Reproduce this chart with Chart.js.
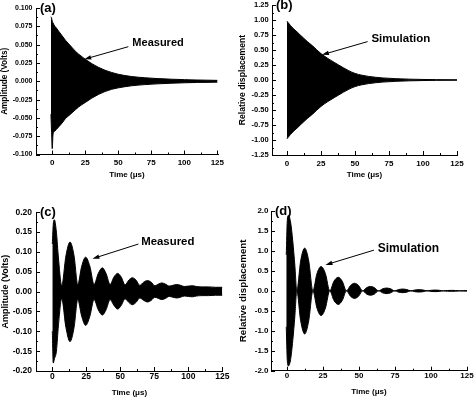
<!DOCTYPE html>
<html>
<head>
<meta charset="utf-8">
<script src="https://cdn.jsdelivr.net/npm/chart.js@4.4.1/dist/chart.umd.min.js"></script>
<style>
  body { margin: 0; background: #fff; }
  #wrap { position: relative; width: 474px; height: 399px; overflow: hidden; }
  canvas { position: absolute; }
</style>
</head>
<body>
<div id="wrap">
  <canvas id="pa" width="237" height="200" style="left:0;top:0"></canvas>
  <canvas id="pb" width="237" height="200" style="left:237px;top:0"></canvas>
  <canvas id="pc" width="237" height="199" style="left:0;top:200px"></canvas>
  <canvas id="pd" width="237" height="199" style="left:237px;top:200px"></canvas>
</div>
<script>
// envelopes of the ring-down signals (time in µs)
const aTime  = [-1, -0.5, 0, 0.5, 1, 2, 3, 5, 7.5, 10, 12.5, 15, 17.5, 20, 25, 30, 35, 40, 45, 50, 60, 70, 80, 90, 100, 110, 125];
const aUpper = [0.088, 0.086, 0.082, 0.080, 0.078, 0.075, 0.073, 0.068, 0.062, 0.056, 0.051, 0.046, 0.041, 0.037, 0.030, 0.024, 0.019, 0.015, 0.012, 0.0095, 0.0065, 0.0048, 0.0036, 0.0028, 0.0022, 0.0017, 0.0012];
const aLower = [-0.045, -0.070, -0.092, -0.075, -0.070, -0.068, -0.066, -0.062, -0.057, -0.051, -0.047, -0.043, -0.039, -0.035, -0.029, -0.023, -0.018, -0.014, -0.011, -0.009, -0.0062, -0.0046, -0.0035, -0.0027, -0.0021, -0.0016, -0.0012];

const bTime  = [0, 2.5, 5, 7.5, 10, 15, 20, 22, 25, 30, 35, 38, 45, 50, 55, 60, 70, 80, 90, 100, 110, 125];
const bUpper = [0.98, 0.91, 0.85, 0.80, 0.745, 0.64, 0.545, 0.50, 0.44, 0.36, 0.29, 0.25, 0.16, 0.11, 0.08, 0.06, 0.035, 0.022, 0.014, 0.009, 0.006, 0.003];
const bLower = [-0.98, -0.91, -0.85, -0.80, -0.745, -0.64, -0.545, -0.50, -0.44, -0.36, -0.29, -0.25, -0.16, -0.11, -0.08, -0.06, -0.035, -0.022, -0.014, -0.009, -0.006, -0.003];

const cTime  = [0, 0.7, 1.5, 3, 4.5, 6.9, 10, 13, 16, 18.7, 21.6, 24.5, 27.6, 30.7, 33.7, 36.8, 39.6, 42.5, 45.2, 48, 50.8, 53.5, 56.2, 58.8, 61.6, 64.3, 67.2, 70, 72.7, 75.4, 78, 80.5, 83.2, 86, 88.7, 91.5, 94.3, 97, 100, 103, 106, 110, 115, 120, 125];
const cUpper = [0.12, 0.17, 0.181, 0.15, 0.085, 0.015, 0.09, 0.125, 0.09, 0.018, 0.064, 0.087, 0.064, 0.018, 0.045, 0.060, 0.045, 0.018, 0.036, 0.046, 0.036, 0.017, 0.029, 0.035, 0.029, 0.016, 0.024, 0.028, 0.024, 0.015, 0.019, 0.022, 0.019, 0.014, 0.016, 0.018, 0.016, 0.013, 0.014, 0.015, 0.013, 0.012, 0.012, 0.011, 0.011];
const cLower = [-0.10, -0.18, -0.17, -0.15, -0.085, -0.018, -0.09, -0.126, -0.09, -0.02, -0.062, -0.085, -0.062, -0.02, -0.045, -0.059, -0.045, -0.02, -0.034, -0.044, -0.034, -0.018, -0.027, -0.033, -0.027, -0.016, -0.022, -0.026, -0.022, -0.014, -0.017, -0.020, -0.017, -0.012, -0.014, -0.016, -0.014, -0.011, -0.012, -0.013, -0.011, -0.010, -0.010, -0.009, -0.009];

const dTime  = [-0.5, 0.2, 1, 2.5, 4, 5.5, 6.8, 9.5, 12.3, 15.1, 18, 20.8, 23.7, 26.7, 29.7, 32.6, 35.6, 38.4, 41.3, 44.1, 46.9, 49.7, 52.5, 55.2, 58, 60.8, 63.6, 66.4, 69.2, 72, 74.8, 77.6, 80.4, 83.2, 86, 88.8, 91.7, 94.5, 97.3, 100.1, 103, 105.8, 108.6, 111.4, 114.3, 117.1, 119.9, 122.7, 125];
const dUpper = [0.9, 1.75, 1.89, 1.72, 1.25, 0.62, 0, 0.75, 1.07, 0.75, 0, 0.43, 0.61, 0.43, 0, 0.24, 0.34, 0.24, 0, 0.135, 0.19, 0.135, 0, 0.078, 0.11, 0.078, 0, 0.05, 0.07, 0.05, 0, 0.032, 0.045, 0.032, 0, 0.021, 0.03, 0.021, 0, 0.014, 0.02, 0.014, 0, 0.0085, 0.012, 0.0085, 0, 0.005, 0.006];
const dLower = [-0.9, -1.74, -1.88, -1.72, -1.25, -0.62, 0, -0.75, -1.08, -0.75, 0, -0.43, -0.62, -0.43, 0, -0.24, -0.34, -0.24, 0, -0.135, -0.19, -0.135, 0, -0.078, -0.11, -0.078, 0, -0.05, -0.07, -0.05, 0, -0.032, -0.045, -0.032, 0, -0.021, -0.03, -0.021, 0, -0.014, -0.02, -0.014, 0, -0.0085, -0.012, -0.0085, 0, -0.005, -0.006];

// tick values
const timeTicks = [0, 25, 50, 75, 100, 125];
const aYTicks = [-0.1, -0.075, -0.05, -0.025, 0, 0.025, 0.05, 0.075, 0.1];
const bYTicks = [-1.25, -1, -0.75, -0.5, -0.25, 0, 0.25, 0.5, 0.75, 1, 1.25];
const cYTicks = [-0.2, -0.15, -0.1, -0.05, 0, 0.05, 0.1, 0.15, 0.2];
const dYTicks = [-2, -1.5, -1, -0.5, 0, 0.5, 1, 1.5, 2];

const FONT = '"Liberation Sans", Arial, sans-serif';
Chart.defaults.color = '#000';
Chart.defaults.font.family = FONT;

// inward Origin-style ticks, panel letter and the arrow note
const decor = {
  id: 'decor',
  afterDatasetsDraw(chart, args, o) {
    const { ctx, chartArea: a, scales: { x, y } } = chart;
    ctx.save();
    ctx.strokeStyle = '#000';
    ctx.fillStyle = '#000';
    ctx.lineWidth = 1;
    ctx.beginPath();
    x.ticks.forEach((t, i, arr) => {
      const px = Math.round(x.getPixelForValue(t.value)) + 0.5;
      ctx.moveTo(px, a.bottom); ctx.lineTo(px, a.bottom - 4);
      if (i < arr.length - 1) {
        const m = Math.round(x.getPixelForValue((t.value + arr[i + 1].value) / 2)) + 0.5;
        ctx.moveTo(m, a.bottom); ctx.lineTo(m, a.bottom - 2);
      }
    });
    y.ticks.forEach((t, i, arr) => {
      const py = Math.round(y.getPixelForValue(t.value)) + 0.5;
      ctx.moveTo(a.left, py); ctx.lineTo(a.left + 4, py);
      if (i < arr.length - 1) {
        const m = Math.round(y.getPixelForValue((t.value + arr[i + 1].value) / 2)) + 0.5;
        ctx.moveTo(a.left, m); ctx.lineTo(a.left + 2, m);
      }
    });
    ctx.stroke();

    ctx.font = 'bold 13px ' + FONT;
    ctx.textAlign = 'left';
    ctx.textBaseline = 'middle';
    ctx.fillText(o.label, a.left + 4, a.top);

    ctx.font = 'bold ' + o.noteSize + 'px ' + FONT;
    ctx.textAlign = 'center';
    ctx.fillText(o.note, x.getPixelForValue(o.noteAt[0]), y.getPixelForValue(o.noteAt[1]));

    const fx = x.getPixelForValue(o.arrowFrom[0]), fy = y.getPixelForValue(o.arrowFrom[1]);
    const hx = x.getPixelForValue(o.arrowTo[0]), hy = y.getPixelForValue(o.arrowTo[1]);
    const ang = Math.atan2(hy - fy, hx - fx);
    ctx.beginPath();
    ctx.moveTo(fx, fy); ctx.lineTo(hx - 5 * Math.cos(ang), hy - 5 * Math.sin(ang));
    ctx.stroke();
    ctx.beginPath();
    ctx.moveTo(hx, hy);
    ctx.lineTo(hx - 7 * Math.cos(ang) + 2.2 * Math.sin(ang), hy - 7 * Math.sin(ang) - 2.2 * Math.cos(ang));
    ctx.lineTo(hx - 7 * Math.cos(ang) - 2.2 * Math.sin(ang), hy - 7 * Math.sin(ang) + 2.2 * Math.cos(ang));
    ctx.closePath();
    ctx.fill();
    ctx.restore();
  }
};

const pts = (t, v) => t.map((x, i) => ({ x: x, y: v[i] }));

function panel(id, p) {
  const line = { borderColor: '#000', borderWidth: 1, pointRadius: 0, cubicInterpolationMode: 'monotone' };
  return new Chart(document.getElementById(id), {
    type: 'line',
    data: {
      datasets: [
        Object.assign({ data: pts(p.time, p.upper), fill: '+1', backgroundColor: '#000' }, line),
        Object.assign({ data: pts(p.time, p.lower), fill: false }, line)
      ]
    },
    options: {
      responsive: false,
      animation: false,
      events: [],
      layout: { padding: p.pad },
      plugins: {
        legend: { display: false },
        tooltip: { enabled: false },
        decor: p.decor
      },
      scales: {
        x: {
          type: 'linear', min: p.xMin, max: p.xMax,
          afterBuildTicks: s => { s.ticks = timeTicks.map(v => ({ value: v })); },
          afterFit: s => { s.height = p.xHeight; s.paddingLeft = 0; s.paddingRight = 0; },
          grid: { display: false, drawTicks: false },
          border: { color: '#000', width: 1 },
          ticks: { font: { size: p.xTickSize, weight: 'bold' }, padding: p.xTickPad, maxRotation: 0, autoSkip: false, callback: v => String(v) },
          title: { display: true, text: 'Time (μs)', font: { size: 8, weight: 'bold' }, padding: 0 }
        },
        y: {
          type: 'linear', min: p.yTicks[0], max: p.yTicks[p.yTicks.length - 1],
          afterBuildTicks: s => { s.ticks = p.yTicks.map(v => ({ value: v })); },
          afterFit: s => { s.width = p.yWidth; s.paddingTop = 0; s.paddingBottom = 0; },
          grid: { display: false, drawTicks: false },
          border: { color: '#000', width: 1 },
          ticks: { font: { size: p.yTickSize, weight: 'bold' }, padding: p.yTickPad, autoSkip: false, callback: v => v.toFixed(p.dec) },
          title: { display: true, text: p.yTitle, font: { size: p.yTitleSize, weight: 'bold' }, padding: 0 }
        }
      }
    },
    plugins: [decor]
  });
}

panel('pa', {
  time: aTime, upper: aUpper, lower: aLower, yTicks: aYTicks, dec: 3,
  xMin: -12.3, xMax: 125.5, pad: { left: 0, top: 8, right: 19, bottom: 20 },
  yWidth: 36, xHeight: 25.5, xTickSize: 8, xTickPad: 3, yTickSize: 7, yTickPad: 3.5,
  yTitle: 'Amplitude (Volts)', yTitleSize: 8.2,
  decor: { label: '(a)', note: 'Measured', noteSize: 11, noteAt: [80.1, 0.0523], arrowFrom: [57.6, 0.0472], arrowTo: [24.2, 0.030] }
});
panel('pb', {
  time: bTime, upper: bUpper, lower: bLower, yTicks: bYTicks, dec: 2,
  xMin: -11, xMax: 125, pad: { left: 0, top: 5, right: 17, bottom: 20.9 },
  yWidth: 35, xHeight: 24.1, xTickSize: 8, xTickPad: 3.5, yTickSize: 7.5, yTickPad: 3.3,
  yTitle: 'Relative displacement', yTitleSize: 8.6,
  decor: { label: '(b)', note: 'Simulation', noteSize: 11.5, noteAt: [83.7, 0.68], arrowFrom: [59.3, 0.64], arrowTo: [25.7, 0.42] }
});
panel('pc', {
  time: cTime, upper: cUpper, lower: cLower, yTicks: cYTicks, dec: 2,
  xMin: -12, xMax: 125.3, pad: { left: 0, top: 12.3, right: 14.3, bottom: 1.5 },
  yWidth: 36, xHeight: 26.5, xTickSize: 8.5, xTickPad: 1, yTickSize: 8.5, yTickPad: 4,
  yTitle: 'Amplitude (Volts)', yTitleSize: 9,
  decor: { label: '(c)', note: 'Measured', noteSize: 11.4, noteAt: [84.9, 0.126], arrowFrom: [63.3, 0.12], arrowTo: [29.5, 0.083] }
});
panel('pd', {
  time: dTime, upper: dUpper, lower: dLower, yTicks: dYTicks, dec: 1,
  xMin: -11.1, xMax: 125, pad: { left: 0, top: 11, right: 7, bottom: 2.2 },
  yWidth: 34, xHeight: 26.1, xTickSize: 8, xTickPad: 0.5, yTickSize: 8, yTickPad: 2.5,
  yTitle: 'Relative displacement', yTitleSize: 9.8,
  decor: { label: '(d)', note: 'Simulation', noteSize: 12, noteAt: [84.3, 1.066], arrowFrom: [60.4, 1.02], arrowTo: [26.7, 0.65] }
});
</script>
</body>
</html>
